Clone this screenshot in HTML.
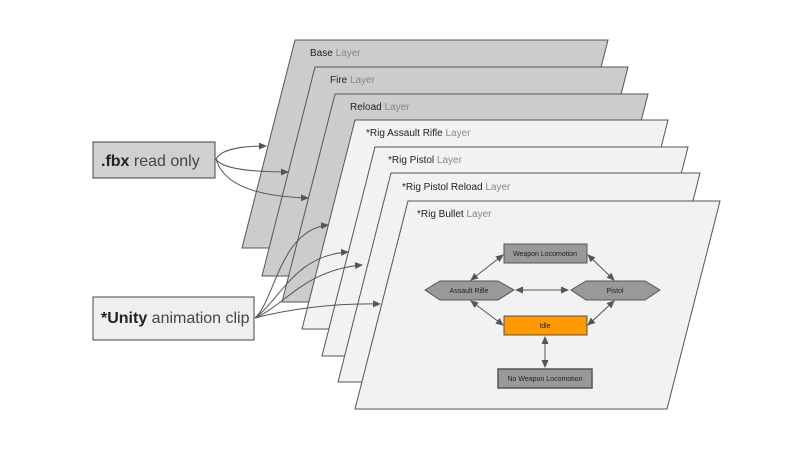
<!DOCTYPE html>
<html><head><style>body{margin:0;background:#fff}svg{display:block}text{font-family:"Liberation Sans",sans-serif}</style></head><body>
<svg width="800" height="450" viewBox="0 0 800 450" xmlns="http://www.w3.org/2000/svg">
<defs><marker id="a" markerWidth="8" markerHeight="8" refX="7" refY="4" orient="auto" markerUnits="userSpaceOnUse"><path d="M0,0.5 L8,4 L0,7.5z" fill="#555"/></marker>
<marker id="s" markerWidth="8" markerHeight="8" refX="1" refY="4" orient="auto" markerUnits="userSpaceOnUse"><path d="M8,0.5 L0,4 L8,7.5z" fill="#555"/></marker></defs>
<g stroke="#555" stroke-width="1">
<polygon points="295,40 608,40 555,248 242,248" fill="#cccccc"/>
<polygon points="315,67 628,67 575,276 262,276" fill="#cccccc"/>
<polygon points="335,94 648,94 595,302 282,302" fill="#cccccc"/>
<polygon points="355,120 668,120 615,329 302,329" fill="#f2f2f2"/>
<polygon points="375,147 688,147 635,356 322,356" fill="#f2f2f2"/>
<polygon points="391,173 700,173 647,382 338,382" fill="#f2f2f2"/>
<polygon points="408,201 720,201 667,409 355,409" fill="#f2f2f2"/>
</g>
<g font-size="10">
<text x="310" y="56" fill="#222">Base <tspan fill="#888">Layer</tspan></text>
<text x="330" y="83" fill="#222">Fire <tspan fill="#888">Layer</tspan></text>
<text x="350" y="110" fill="#222">Reload <tspan fill="#888">Layer</tspan></text>
<text x="366" y="136" fill="#222">*Rig Assault Rifle <tspan fill="#888">Layer</tspan></text>
<text x="388" y="163" fill="#222">*Rig Pistol <tspan fill="#888">Layer</tspan></text>
<text x="402" y="190" fill="#222">*Rig Pistol Reload <tspan fill="#888">Layer</tspan></text>
<text x="417" y="217" fill="#222">*Rig Bullet <tspan fill="#888">Layer</tspan></text>
</g>
<rect x="93" y="142" width="122" height="36" fill="#d0d0d0" stroke="#444"/>
<text x="101" y="166" font-size="16" fill="#222"><tspan font-weight="bold">.fbx</tspan><tspan fill="#444"> read only</tspan></text>
<rect x="93" y="297" width="161" height="43" fill="#efefef" stroke="#444"/>
<text x="101" y="323" font-size="16" fill="#222"><tspan font-weight="bold">*Unity</tspan><tspan fill="#444"> animation clip</tspan></text>
<g fill="none" stroke="#555" stroke-width="1" marker-end="url(#a)">
<path d="M216,159 C222,148 245,146 266,146"/>
<path d="M216,159 C222,170 260,172 288,172"/>
<path d="M216,159 C225,190 270,197 308,198"/>
<path d="M255,318 C275,300 280,230 328,225"/>
<path d="M255,318 C280,300 295,255 348,252"/>
<path d="M255,318 C285,305 305,270 362,265"/>
<path d="M255,318 C285,310 330,303 380,304"/>
</g>
<g stroke="#555" fill="none" marker-end="url(#a)" marker-start="url(#s)">
<path d="M471,280 L503,255"/>
<path d="M588,255 L614,280"/>
<path d="M516,290 L568,290"/>
<path d="M471,301 L503,325"/>
<path d="M614,301 L588,325"/>
<path d="M545,337 L545,367"/>
</g>
<g stroke="#555" font-size="7" text-anchor="middle">
<rect x="504" y="244" width="83" height="19" fill="#999"/>
<polygon points="425,290 440,281 498,281 514,290 498,300 440,300" fill="#999"/>
<polygon points="571,290 586,281 645,281 660,290 645,300 586,300" fill="#999"/>
<rect x="504" y="316" width="83" height="19" fill="#ff9900"/>
<rect x="498" y="369" width="94" height="19" fill="#999" stroke-width="1.5"/>
</g>
<g font-size="7" text-anchor="middle" fill="#222">
<text x="545" y="256">Weapon Locomotion</text>
<text x="469" y="293">Assault Rifle</text>
<text x="615" y="293">Pistol</text>
<text x="545" y="328">Idle</text>
<text x="545" y="381">No Weapon Locomotion</text>
</g>
</svg>
</body></html>
